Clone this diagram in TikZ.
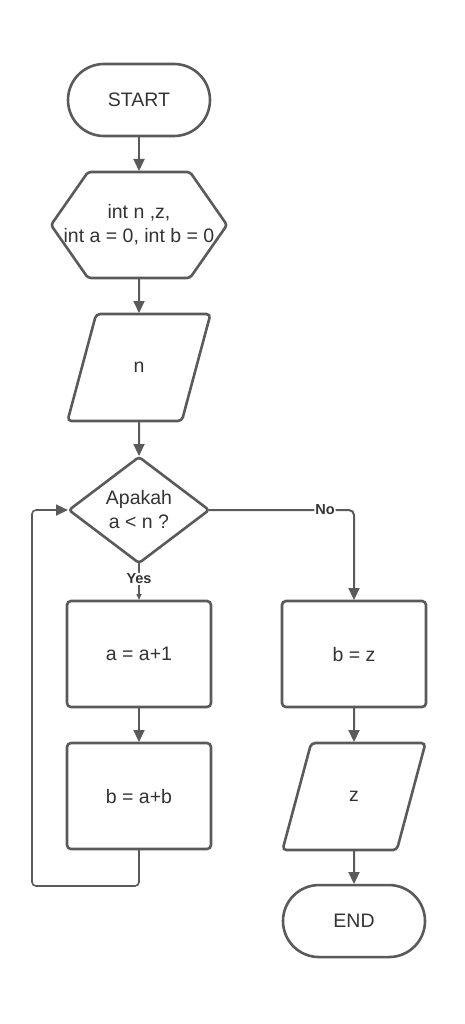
\documentclass[tikz,border=0pt]{standalone}
\usepackage{fontspec}
\setmainfont{Liberation Sans}
\usepackage{tikz}
\usetikzlibrary{shapes.geometric, shapes.misc, arrows.meta, positioning}
\definecolor{linegray}{HTML}{5A5A5A}
\definecolor{textgray}{HTML}{333333}

\begin{document}
\begin{tikzpicture}[
  node distance=36pt,
  base/.style={draw=linegray, line width=2.6pt, text=textgray, align=center, font=\fontsize{19.5}{24}\selectfont, inner sep=1pt, outer sep=0pt},
  termbox/.style={base, rounded rectangle, minimum width=144pt, minimum height=72pt},
  hexbox/.style={base, draw=none, rectangle, minimum width=176pt, minimum height=106pt},
  hexline/.style={draw=linegray, line width=2.6pt, rounded corners=3pt},
  iobox/.style={base, trapezium, trapezium left angle=75, trapezium right angle=105, trapezium stretches body=true, text height=14pt, text depth=5pt, inner ysep=44pt, minimum width=143pt, rounded corners=4pt},
  decbox/.style={base, diamond, aspect=1.32, minimum width=140pt, minimum height=106pt, rounded corners=3pt},
  procbox/.style={base, rectangle, rounded corners=4pt, minimum width=144pt, minimum height=106pt},
  arr/.style={draw=linegray, line width=2pt, -{Triangle[length=12pt, width=11pt]}, shorten >=1pt},
  lbl/.style={font=\fontsize{14.5}{17}\selectfont\bfseries, text=textgray, fill=white, inner sep=1pt}
]
\useasboundingbox (0,0) rectangle (464pt,-1024pt);

\node[termbox] (start) at (139pt,-100pt) {START};
\node[hexbox, below=of start] (vars) {int n ,z,\\int a = 0, int b = 0};
\draw[hexline] ([xshift=37pt]vars.north west) -- ([xshift=-37pt]vars.north east) -- (vars.east)
  -- ([xshift=-37pt]vars.south east) -- ([xshift=37pt]vars.south west) -- (vars.west) -- cycle;
\node[iobox, below=of vars] (inpn) {n};
\node[decbox, below=of inpn] (cond) {Apakah\\a < n ?};
\node[procbox, below=38pt of cond] (incra) {a = a+1};
\node[procbox, below=of incra] (sumb) {b = a+b};
\node[procbox, right=71pt of incra] (setb) {b = z};
\node[iobox, below=of setb] (outz) {z};
\node[termbox, below=35pt of outz] (stop) {END};

\draw[arr] (start) -- (vars);
\draw[arr] (vars) -- (inpn);
\draw[arr] (inpn) -- (cond);
\draw[arr, -{Triangle[length=6pt, width=5pt]}] (cond) -- node[lbl, pos=0.42] {Yes} (incra);
\draw[arr, rounded corners=5pt] (cond.east) -- node[lbl, pos=0.8] {No} (cond -| setb) -- (setb);
\draw[arr] (incra) -- (sumb);
\draw[arr] (setb) -- (outz);
\draw[arr] (outz) -- (stop);
% loop back to the decision
\draw[arr, line width=1.6pt, rounded corners=4pt] (sumb.south) -- ++(0,-37pt) -| ([xshift=-37pt]cond.west) -- (cond.west);
\end{tikzpicture}
\end{document}
